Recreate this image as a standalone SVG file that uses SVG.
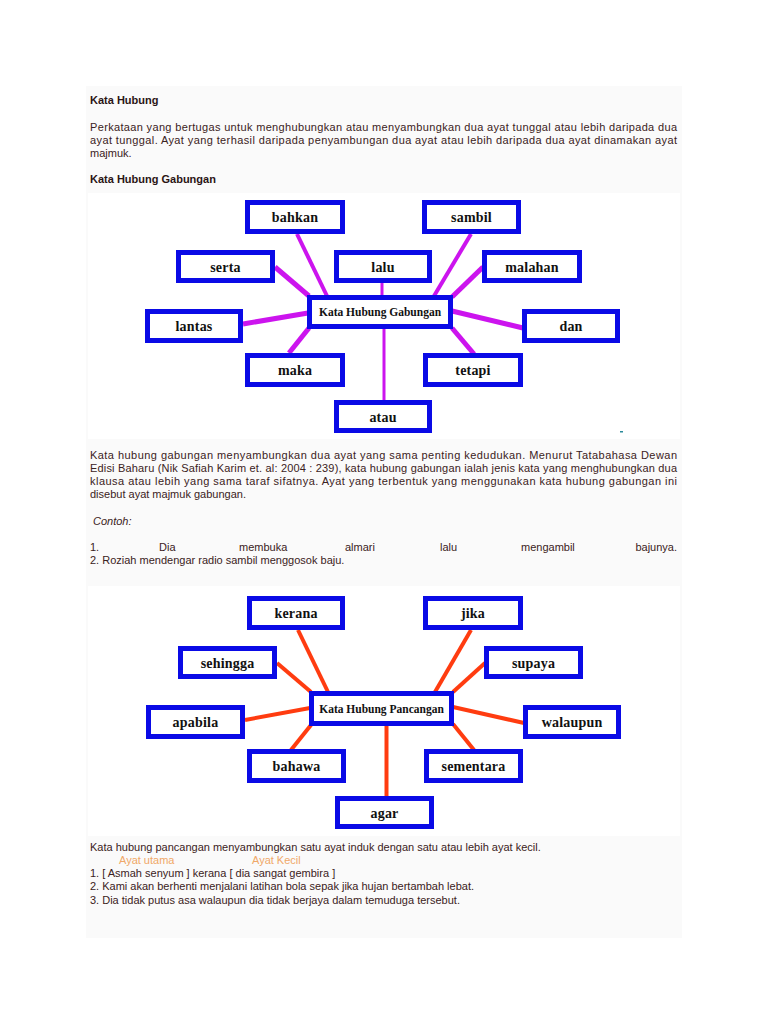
<svg xmlns="http://www.w3.org/2000/svg" width="768" height="1024" viewBox="0 0 768 1024">
<style>
.t{font-family:"Liberation Sans",Arial,sans-serif;font-size:11px;fill:#3a2222}
.h{font-family:"Liberation Sans",Arial,sans-serif;font-size:11px;font-weight:bold;fill:#2a1414}
.box{fill:#ffffff;stroke:#0a0ae6;stroke-width:5}
.lbl{font-family:"Liberation Serif","Times New Roman",serif;font-size:14px;font-weight:bold;fill:#111;text-anchor:middle;letter-spacing:0.2px}
.ctr{font-family:"Liberation Serif","Times New Roman",serif;font-size:11.5px;font-weight:bold;fill:#111;text-anchor:middle}
.mg{stroke:#cc14ee;fill:none;stroke-linecap:butt}
.rd{stroke:#ff3c10;fill:none;stroke-width:4}
.or{font-family:"Liberation Sans",Arial,sans-serif;font-size:11px;fill:#f0a868}
</style>
<rect width="768" height="1024" fill="#ffffff"/>
<rect x="86" y="86" width="596" height="852" fill="#fafafa"/>
<rect x="88" y="193" width="592" height="246" fill="#ffffff"/>
<rect x="88" y="586" width="592" height="250" fill="#ffffff"/>

<text class="h" x="90" y="104">Kata Hubung</text>
<text class="t" x="90" y="131" textLength="587" lengthAdjust="spacing">Perkataan yang bertugas untuk menghubungkan atau menyambungkan dua ayat tunggal atau lebih daripada dua</text>
<text class="t" x="90" y="144" textLength="587" lengthAdjust="spacing">ayat tunggal. Ayat yang terhasil daripada penyambungan dua ayat atau lebih daripada dua ayat dinamakan ayat</text>
<text class="t" x="90" y="157">majmuk.</text>
<text class="h" x="90" y="183">Kata Hubung Gabungan</text>

<g id="connectors1">
<line class="mg" stroke-width="4" x1="297" y1="234" x2="327" y2="296"/>
<line class="mg" stroke-width="5" x1="275" y1="267" x2="309" y2="296"/>
<line class="mg" stroke-width="3" x1="382" y1="283" x2="382" y2="296"/>
<line class="mg" stroke-width="5" x1="243" y1="324" x2="308" y2="313"/>
<line class="mg" stroke-width="5" x1="289" y1="353" x2="309" y2="328"/>
<line class="mg" stroke-width="3" x1="384" y1="328" x2="384" y2="401"/>
<line class="mg" stroke-width="4" x1="471" y1="234" x2="434" y2="296"/>
<line class="mg" stroke-width="5" x1="483" y1="267" x2="452" y2="297"/>
<line class="mg" stroke-width="5" x1="452" y1="311" x2="523" y2="328"/>
<line class="mg" stroke-width="5" x1="452" y1="328" x2="474" y2="354"/>
</g>

<g id="n-bahkan"><rect class="box" x="247.5" y="202.5" width="95" height="29"/><text class="lbl" x="295" y="222">bahkan</text></g>
<g id="n-sambil"><rect class="box" x="424.5" y="202.5" width="94" height="29"/><text class="lbl" x="471.5" y="222">sambil</text></g>
<g id="n-serta"><rect class="box" x="178.5" y="252.5" width="94" height="28"/><text class="lbl" x="225.5" y="271.5">serta</text></g>
<g id="n-lalu"><rect class="box" x="336.5" y="252.5" width="93" height="28"/><text class="lbl" x="383" y="271.5">lalu</text></g>
<g id="n-malahan"><rect class="box" x="484.5" y="252.5" width="95" height="28"/><text class="lbl" x="532" y="271.5">malahan</text></g>
<g id="n-gabungan"><rect class="box" x="309.5" y="297.5" width="141" height="29"/><text class="ctr" x="380" y="316">Kata Hubung Gabungan</text></g>
<g id="n-lantas"><rect class="box" x="147.5" y="311.5" width="93" height="29"/><text class="lbl" x="194" y="331">lantas</text></g>
<g id="n-dan"><rect class="box" x="524.5" y="311.5" width="93" height="29"/><text class="lbl" x="571" y="331">dan</text></g>
<g id="n-maka"><rect class="box" x="247.5" y="355.5" width="95" height="29"/><text class="lbl" x="295" y="375">maka</text></g>
<g id="n-tetapi"><rect class="box" x="425.5" y="355.5" width="95" height="29"/><text class="lbl" x="473" y="375">tetapi</text></g>
<g id="n-atau"><rect class="box" x="336.5" y="402.5" width="93" height="28"/><text class="lbl" x="383" y="421.5">atau</text></g>
<rect x="620" y="431" width="3" height="1.5" fill="#2a8a9a"/>

<text class="t" x="90" y="459" textLength="587" lengthAdjust="spacing">Kata hubung gabungan menyambungkan dua ayat yang sama penting kedudukan. Menurut Tatabahasa Dewan</text>
<text class="t" x="90" y="472" textLength="587" lengthAdjust="spacing">Edisi Baharu (Nik Safiah Karim et. al: 2004 : 239), kata hubung gabungan ialah jenis kata yang menghubungkan dua</text>
<text class="t" x="90" y="485" textLength="587" lengthAdjust="spacing">klausa atau lebih yang sama taraf sifatnya. Ayat yang terbentuk yang menggunakan kata hubung gabungan ini</text>
<text class="t" x="90" y="498">disebut ayat majmuk gabungan.</text>
<text class="t" x="93" y="525" font-style="italic">Contoh:</text>
<text class="t" y="551"><tspan x="90">1.</tspan><tspan x="159">Dia</tspan><tspan x="239">membuka</tspan><tspan x="345">almari</tspan><tspan x="440">lalu</tspan><tspan x="521">mengambil</tspan></text>
<text class="t" x="677" y="551" text-anchor="end">bajunya.</text>
<text class="t" x="90" y="564">2. Roziah mendengar radio sambil menggosok baju.</text>

<g id="connectors2">
<line class="rd" x1="298" y1="630" x2="328" y2="692"/>
<line class="rd" x1="277" y1="663" x2="311" y2="692"/>
<line class="rd" x1="245" y1="720" x2="310" y2="708"/>
<line class="rd" x1="291" y1="750" x2="311" y2="725"/>
<line class="rd" x1="386.5" y1="725" x2="386.5" y2="797"/>
<line class="rd" x1="471" y1="630" x2="435" y2="692"/>
<line class="rd" x1="485" y1="663" x2="453" y2="692"/>
<line class="rd" x1="453" y1="707" x2="524" y2="723"/>
<line class="rd" x1="453" y1="724" x2="474" y2="750"/>
</g>

<g id="n-kerana"><rect class="box" x="249.5" y="598.5" width="93" height="29"/><text class="lbl" x="296" y="618">kerana</text></g>
<g id="n-jika"><rect class="box" x="425.5" y="598.5" width="95" height="29"/><text class="lbl" x="473" y="618">jika</text></g>
<g id="n-sehingga"><rect class="box" x="180.5" y="648.5" width="94" height="28"/><text class="lbl" x="227.5" y="667.5">sehingga</text></g>
<g id="n-supaya"><rect class="box" x="486.5" y="648.5" width="94" height="28"/><text class="lbl" x="533.5" y="667.5">supaya</text></g>
<g id="n-pancangan"><rect class="box" x="311.5" y="693.5" width="140" height="30"/><text class="ctr" x="381.5" y="712.5">Kata Hubung Pancangan</text></g>
<g id="n-apabila"><rect class="box" x="148.5" y="707.5" width="94" height="29"/><text class="lbl" x="195.5" y="727">apabila</text></g>
<g id="n-walaupun"><rect class="box" x="525.5" y="707.5" width="93" height="29"/><text class="lbl" x="572" y="727">walaupun</text></g>
<g id="n-bahawa"><rect class="box" x="249.5" y="751.5" width="94" height="29"/><text class="lbl" x="296.5" y="771">bahawa</text></g>
<g id="n-sementara"><rect class="box" x="426.5" y="751.5" width="94" height="29"/><text class="lbl" x="473.5" y="771">sementara</text></g>
<g id="n-agar"><rect class="box" x="337.5" y="798.5" width="94" height="28"/><text class="lbl" x="384.5" y="817.5">agar</text></g>

<text class="t" x="90" y="851">Kata hubung pancangan menyambungkan satu ayat induk dengan satu atau lebih ayat kecil.</text>
<text class="or" x="119" y="864">Ayat utama</text>
<text class="or" x="252" y="864">Ayat Kecil</text>
<text class="t" x="90" y="877">1. [ Asmah senyum ] kerana [ dia sangat gembira ]</text>
<text class="t" x="90" y="890">2. Kami akan berhenti menjalani latihan bola sepak jika hujan bertambah lebat.</text>
<text class="t" x="90" y="904">3. Dia tidak putus asa walaupun dia tidak berjaya dalam temuduga tersebut.</text>
</svg>
